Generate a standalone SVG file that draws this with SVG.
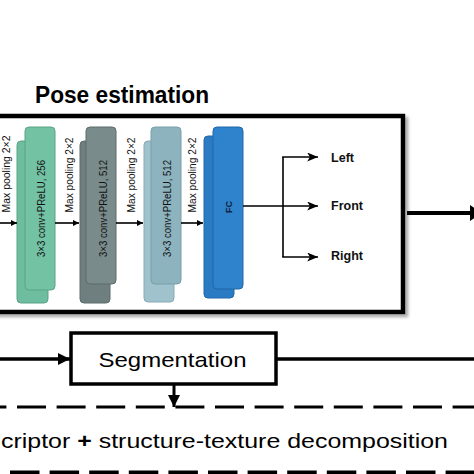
<svg xmlns="http://www.w3.org/2000/svg" width="474" height="474" viewBox="0 0 474 474">
<defs>
<style>
.lbl{font-family:"Liberation Sans",Arial,sans-serif;font-size:10.5px;fill:#111}
.blk{font-family:"Liberation Sans",Arial,sans-serif;font-size:11px;fill:#111}
.out{font-family:"Liberation Sans",Arial,sans-serif;font-size:12.5px;font-weight:bold;fill:#111}
.thin{stroke:#000;stroke-width:1.6;fill:none}
.thick{stroke:#000;stroke-width:3.5;fill:none}
</style>
<marker id="ah" viewBox="0 0 10 10" refX="10" refY="5" markerWidth="6" markerHeight="6" markerUnits="userSpaceOnUse" orient="auto">
<path d="M0,0 L10,5 L0,10 Z" fill="#000"/>
</marker>
<marker id="ahc" viewBox="0 0 12 10" refX="12" refY="5" markerWidth="11" markerHeight="9" markerUnits="userSpaceOnUse" orient="auto">
<path d="M0,0 L12,5 L0,10 L3,5 Z" fill="#000"/>
</marker>
<marker id="ahb" viewBox="0 0 10 10" refX="10" refY="5" markerWidth="12" markerHeight="12" markerUnits="userSpaceOnUse" orient="auto">
<path d="M0,0 L10,5 L0,10 Z" fill="#000"/>
</marker>
<filter id="sh" x="-5%" y="-5%" width="115%" height="115%">
<feDropShadow dx="3" dy="3" stdDeviation="1.8" flood-color="#888" flood-opacity="0.7"/>
</filter>
</defs>
<rect width="474" height="474" fill="#fff"/>

<g id="pose-box">
<rect x="-10" y="116" width="413" height="196" fill="#fff" stroke="#000" stroke-width="4.5" filter="url(#sh)"/>
<text x="35" y="103" font-family="Liberation Sans,Arial,sans-serif" font-size="23" font-weight="bold" fill="#000" textLength="174" lengthAdjust="spacingAndGlyphs">Pose estimation</text>
</g>

<g id="block1">
<rect x="17" y="141" width="31" height="162" rx="4" fill="#6dbd9e" stroke="#5aa386" stroke-width="1"/>
<rect x="25" y="127" width="30" height="163" rx="4" fill="#72c2a3" stroke="#5aa386" stroke-width="1"/>
<text class="blk" transform="translate(44.5,208.5) rotate(-90)" text-anchor="middle" textLength="97" lengthAdjust="spacingAndGlyphs">3×3 conv+PReLU, 256</text>
</g>
<g id="block2">
<rect x="80" y="141" width="30" height="162" rx="4" fill="#6f7f7f" stroke="#5c6b6b" stroke-width="1"/>
<rect x="86" y="127" width="30" height="157" rx="4" fill="#7a8b8b" stroke="#5c6b6b" stroke-width="1"/>
<text class="blk" transform="translate(106.5,208.5) rotate(-90)" text-anchor="middle" textLength="97" lengthAdjust="spacingAndGlyphs">3×3 conv+PReLU, 512</text>
</g>
<g id="block3">
<rect x="144" y="141" width="30" height="161" rx="4" fill="#a0c2cc" stroke="#87aab5" stroke-width="1"/>
<rect x="151" y="127" width="30" height="157" rx="4" fill="#8db3bf" stroke="#789fac" stroke-width="1"/>
<text class="blk" transform="translate(170.5,208.5) rotate(-90)" text-anchor="middle" textLength="97" lengthAdjust="spacingAndGlyphs">3×3 conv+PReLU, 512</text>
</g>
<g id="block4">
<rect x="204" y="136" width="30" height="162" rx="4" fill="#2b7bc4" stroke="#2266a8" stroke-width="1"/>
<rect x="213" y="127" width="30" height="162" rx="4" fill="#2f82cc" stroke="#2266a8" stroke-width="1"/>
<text transform="translate(231.5,207) rotate(-90)" text-anchor="middle" font-family="Liberation Sans,Arial,sans-serif" font-size="9" font-weight="bold" fill="#10243a">FC</text>
</g>

<g id="pool-labels">
<text class="lbl" transform="translate(9.5,174) rotate(-90)" text-anchor="middle" textLength="77" lengthAdjust="spacingAndGlyphs">Max pooling 2×2</text>
<text class="lbl" transform="translate(73,175) rotate(-90)" text-anchor="middle" textLength="75" lengthAdjust="spacingAndGlyphs">Max pooling 2×2</text>
<text class="lbl" transform="translate(134.5,175) rotate(-90)" text-anchor="middle" textLength="75" lengthAdjust="spacingAndGlyphs">Max pooling 2×2</text>
<text class="lbl" transform="translate(196,175) rotate(-90)" text-anchor="middle" textLength="75" lengthAdjust="spacingAndGlyphs">Max pooling 2×2</text>
</g>

<g id="outputs">
<text class="out" x="331" y="162" textLength="23" lengthAdjust="spacingAndGlyphs">Left</text>
<text class="out" x="331" y="210" textLength="32" lengthAdjust="spacingAndGlyphs">Front</text>
<text class="out" x="331" y="260" textLength="32" lengthAdjust="spacingAndGlyphs">Right</text>
</g>

<g id="segmentation">
<rect x="71" y="333" width="205" height="51" fill="#fff" stroke="#000" stroke-width="3.5"/>
<text x="172.5" y="367" text-anchor="middle" font-family="Liberation Sans,Arial,sans-serif" font-size="21" fill="#000" textLength="148" lengthAdjust="spacingAndGlyphs">Segmentation</text>
</g>

<g id="descriptor">
<text x="1" y="448" font-family="Liberation Sans,Arial,sans-serif" font-size="21" fill="#000" textLength="447" lengthAdjust="spacingAndGlyphs">criptor <tspan font-weight="bold">+</tspan> structure-texture decomposition</text>
</g>

<g id="connectors">
<line class="thin" x1="-2" y1="223" x2="17" y2="223" marker-end="url(#ah)"/>
<line class="thin" x1="55" y1="223" x2="79" y2="223" marker-end="url(#ah)"/>
<line class="thin" x1="116" y1="223" x2="143" y2="223" marker-end="url(#ah)"/>
<line class="thin" x1="181" y1="223" x2="203" y2="223" marker-end="url(#ah)"/>
<line class="thin" x1="243" y1="206" x2="318" y2="206" marker-end="url(#ahc)"/>
<line class="thin" x1="283" y1="157" x2="283" y2="257"/>
<line class="thin" x1="282.2" y1="157" x2="318" y2="157" marker-end="url(#ahc)"/>
<line class="thin" x1="282.2" y1="257" x2="318" y2="257" marker-end="url(#ahc)"/>
<line x1="407" y1="213" x2="472" y2="213" stroke="#000" stroke-width="4"/>
<path d="M470,205 L482,213 L470,221 Z" fill="#000"/>
<line class="thick" x1="-5" y1="359" x2="70" y2="359" marker-end="url(#ahb)"/>
<line class="thick" x1="276" y1="359" x2="480" y2="359"/>
<line x1="174" y1="385" x2="174" y2="407" stroke="#000" stroke-width="3" marker-end="url(#ahb)"/>
<line x1="-22.6" y1="407" x2="480" y2="407" stroke="#000" stroke-width="3.2" stroke-dasharray="29 10.6"/>
<line x1="-29.6" y1="474" x2="480" y2="474" stroke="#000" stroke-width="7" stroke-dasharray="29.5 10.1"/>
</g>
</svg>
